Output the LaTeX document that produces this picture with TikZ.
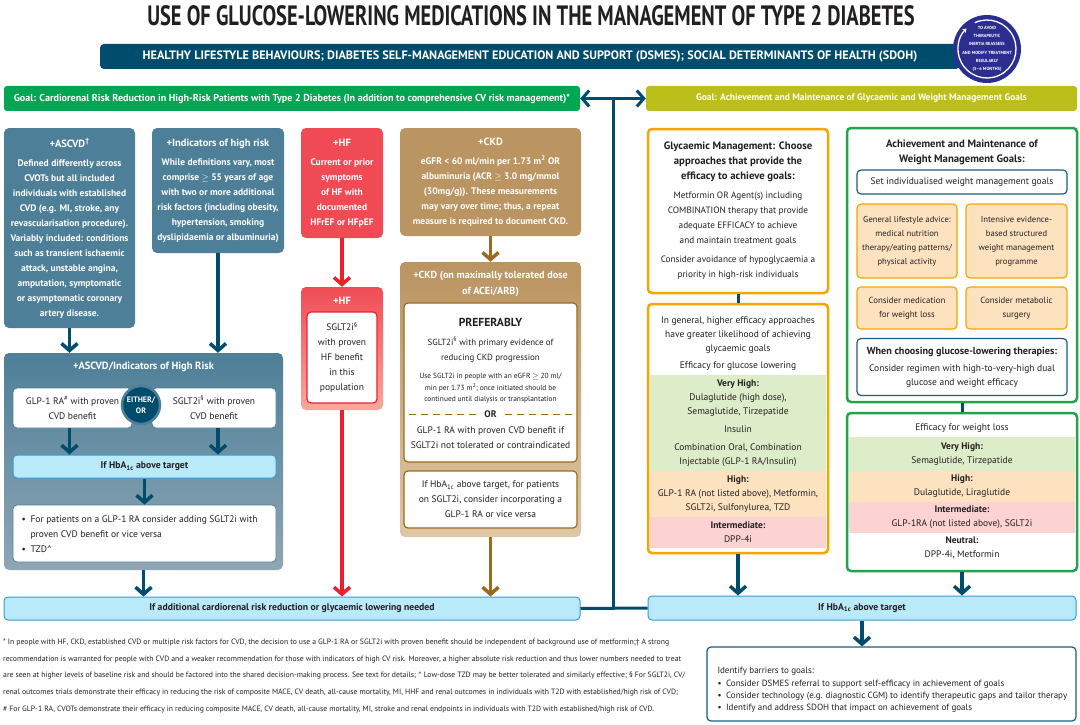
\documentclass[tikz,border=0pt]{standalone}
\usepackage{fontspec}
\setmainfont{PT Sans}
\newfontfamily\titlefont{PT Sans}[FakeStretch=0.73]
\usetikzlibrary{arrows.meta,positioning,calc}

\definecolor{ink}{HTML}{231F20}
\definecolor{hdrblue}{HTML}{004C6C}
\definecolor{circblue}{HTML}{2B2E8F}
\definecolor{goalgreen}{HTML}{00A651}
\definecolor{goalolive}{HTML}{BCBE1A}
\definecolor{steel}{HTML}{4D7F98}
\definecolor{steellight}{HTML}{8FA6B5}
\definecolor{hfred}{HTML}{F04B55}
\definecolor{hfpink}{HTML}{F9A89E}
\definecolor{redline}{HTML}{E8222D}
\definecolor{ckdtan}{HTML}{BA9461}
\definecolor{ckdlight}{HTML}{DEC7A5}
\definecolor{brownline}{HTML}{9C6A1C}
\definecolor{cyanfill}{HTML}{B8EAF9}
\definecolor{cyanline}{HTML}{3A9AD9}
\definecolor{orangeline}{HTML}{F7A600}
\definecolor{orangefill}{HTML}{FDE2C0}
\definecolor{greenband}{HTML}{DDEDC9}
\definecolor{pinkband}{HTML}{FCD2D2}
\definecolor{weightgreen}{HTML}{22A44A}
\definecolor{goalblue}{HTML}{1B5E7E}

\newcommand{\HbA}{HbA\textsubscript{1c}}
\newcommand{\geqs}{\ensuremath{\geq}}
\newcommand{\boxhead}[1]{{\bfseries\fontsize{10.7}{15}\selectfont #1}}

\tikzset{
  colbox/.style={rounded corners=5pt, text=white, align=center, inner sep=0pt,
    font=\bfseries\fontsize{9.5}{15}\selectfont},
  whitebox/.style={draw=#1, fill=white, rounded corners=4pt, line width=1.2pt,
    align=center, inner sep=0pt, text=ink, font=\fontsize{9.5}{15}\selectfont},
  cyanbar/.style={draw=cyanline, fill=cyanfill, rounded corners=4pt, line width=1pt,
    text=ink, font=\bfseries\fontsize{9.7}{12}\selectfont},
  band/.style={fill=#1, align=center, inner sep=0pt, text=ink,
    font=\fontsize{9.5}{14}\selectfont},
  flow/.style={draw=#1, line width=3.5pt, -{Straight Barb[length=7pt,width=16pt]}},
  link/.style={draw=#1, line width=3pt},
}

\begin{document}
\begin{tikzpicture}[x=1pt, y=-1pt]
  \useasboundingbox (0,0) rectangle (1080,725);
  \fill[white] (0,0) rectangle (1080,725);

  % Title and header
  \node[text=ink, font=\titlefont\bfseries\fontsize{28}{28}\selectfont] (title) at (531,16)
    {USE OF GLUCOSE-LOWERING MEDICATIONS IN THE MANAGEMENT OF TYPE 2 DIABETES};
  \node[fill=hdrblue, rounded corners=4pt, minimum width=860pt, minimum height=25pt, text=white,
    font=\bfseries\fontsize{12.2}{13}\selectfont] (lifestyle) at (530,56.5)
    {HEALTHY LIFESTYLE BEHAVIOURS; DIABETES SELF-MANAGEMENT EDUCATION AND SUPPORT (DSMES); SOCIAL DETERMINANTS OF HEALTH (SDOH)};
  \node[circle, fill=circblue, minimum size=68pt, inner sep=0pt, text=white, align=center,
    font=\bfseries\fontsize{4.4}{8.2}\selectfont] (reassess) at (987,49)
    {TO AVOID\\THERAPEUTIC\\INERTIA REASSESS\\AND MODIFY TREATMENT\\REGULARLY\\(3–6 MONTHS)};
  \draw[white, line width=1.3pt, -{Stealth[length=4pt,width=5pt]}] (reassess.center) ++(-115:29)
    arc[start angle=-115, end angle=225, radius=29];

  % Goals
  \node[fill=goalgreen, rounded corners=3pt, minimum width=576pt, minimum height=25pt, text=white,
    font=\bfseries\fontsize{10.1}{11}\selectfont] (goalL) at (292,98.5)
    {Goal: Cardiorenal Risk Reduction in High-Risk Patients with Type 2 Diabetes (In addition to comprehensive CV risk management)*};
  \node[fill=goalolive, rounded corners=3pt, minimum width=431pt, minimum height=25pt, text=white,
    font=\bfseries\fontsize{9.5}{10}\selectfont] (goalR) at (861.5,98.5)
    {Goal: Achievement and Maintenance of Glycaemic and Weight Management Goals};

  % Left: risk groups
  \node[colbox, fill=steel, minimum width=131pt, minimum height=200pt] (ascvd) at (69.5,228)
    {{\fontsize{10.5}{15}\selectfont +ASCVD\textsuperscript{†}}\\[4pt]
     Defined differently across\\CVOTs but all included\\individuals with established\\
     CVD (e.g. MI, stroke, any\\revascularisation procedure).\\Variably included: conditions\\
     such as transient ischaemic\\attack, unstable angina,\\amputation, symptomatic\\
     or asymptomatic coronary\\artery disease.};
  \node[colbox, fill=steel, minimum width=132pt, minimum height=125pt] (risk) at (218,190.5)
    {{\fontsize{10.5}{15}\selectfont +Indicators of high risk}\\[4pt]
     While definitions vary, most\\comprise \geqs{} 55 years of age\\with two or more additional\\
     risk factors (including obesity,\\hypertension, smoking\\dyslipidaemia or albuminuria)};
  \node[colbox, fill=hfred, minimum width=82pt, minimum height=110pt] (hf) at (342,183)
    {{\fontsize{10.5}{15}\selectfont +HF}\\[4pt]
     Current or prior\\symptoms\\of HF with\\documented\\HFrEF or HFpEF};
  \node[colbox, fill=ckdtan, minimum width=181pt, minimum height=108pt] (ckd) at (490.5,182)
    {{\fontsize{10.5}{15}\selectfont +CKD}\\[4pt]
     eGFR < 60 ml/min per 1.73 m\textsuperscript{2} OR\\albuminuria (ACR \geqs{} 3.0 mg/mmol\\
     (30mg/g)). These measurements\\may vary over time; thus, a repeat\\
     measure is required to document CKD.};

  % Left: ASCVD / indicators of high risk
  \node[rounded corners=5pt, top color=steel, bottom color=steellight, minimum width=279pt,
    minimum height=217pt] (ascvdrisk) at (143.5,461.5) {};
  \node[text=white, font=\bfseries\fontsize{10.5}{12}\selectfont] (ascvdriskhead) at (143.5,367)
    {+ASCVD/Indicators of High Risk};
  \node[whitebox=steel, line width=0.8pt, minimum width=119pt, minimum height=40pt] (glp) at (72.5,408)
    {GLP-1 RA\textsuperscript{\#} with proven\\CVD benefit};
  \node[whitebox=steel, line width=0.8pt, minimum width=124pt, minimum height=40pt] (sglt) at (214,408)
    {SGLT2i\textsuperscript{§} with proven\\CVD benefit};
  \node[circle, fill=hdrblue, draw=steel, line width=2.5pt, minimum size=38pt, inner sep=0pt,
    text=white, align=center, font=\bfseries\fontsize{7.9}{11}\selectfont] (either) at (141,405)
    {EITHER/\\OR};
  \node[cyanbar, minimum width=263pt, minimum height=23pt] (hbaL) at (144.5,466.5)
    {If \HbA{} above target};
  \node[whitebox=steel, line width=0.8pt, minimum width=263pt, minimum height=57pt] (tzd) at (144.5,533.5) {};
  \node[anchor=west, align=left, text=ink, font=\fontsize{9.5}{15}\selectfont] (tzdtext) at (18,534)
    {\textbullet\enspace For patients on a GLP-1 RA consider adding SGLT2i with\\
     \hphantom{\textbullet\enspace}proven CVD benefit or vice versa\\
     \textbullet\enspace TZD\textasciicircum};

  % Left: HF and CKD
  \node[rounded corners=5pt, top color=hfred, bottom color=hfpink, minimum width=82pt,
    minimum height=123pt] (hftreat) at (342,348.5) {};
  \node[text=white, font=\bfseries\fontsize{10.5}{12}\selectfont] (hftreathead) at (342,301) {+HF};
  \node[whitebox=redline, minimum width=70pt, minimum height=91pt] (hfsglt) at (342,357.5)
    {SGLT2i\textsuperscript{§}\\with proven\\HF benefit\\in this\\population};

  \node[rounded corners=5pt, top color=ckdtan, bottom color=ckdlight, minimum width=181pt,
    minimum height=275pt] (ckdtreat) at (490.5,399.5) {};
  \node[text=white, align=center, font=\bfseries\fontsize{10.2}{16}\selectfont] (ckdtreathead) at (490.5,284)
    {+CKD (on maximally tolerated dose\\of ACEi/ARB)};
  \node[whitebox=brownline, minimum width=173pt, minimum height=159pt] (ckdpref) at (490.5,382.5) {};
  \node[text=ink, font=\bfseries\fontsize{11.6}{14}\selectfont] (preftitle) at (490.5,322) {PREFERABLY};
  \node[text=ink, align=center, font=\fontsize{8.9}{15.5}\selectfont] (preftext) at (490.5,350)
    {SGLT2i\textsuperscript{§} with primary evidence of\\reducing CKD progression};
  \node[text=ink, align=center, font=\fontsize{7.4}{11.5}\selectfont] (prefnote) at (490.5,388.5)
    {Use SGLT2i in people with an eGFR \geqs{} 20 ml/\\min per 1.73 m\textsuperscript{2}; once initiated should be\\
     continued until dialysis or transplantation};
  \node[text=ink, fill=white, inner sep=3pt, font=\bfseries\fontsize{9.5}{10}\selectfont] (orword) at (490.5,414) {OR};
  \draw[brownline, line width=1pt, dash pattern=on 7pt off 5pt]
    ([xshift=6pt]orword -| ckdpref.west) -- (orword.west);
  \draw[brownline, line width=1pt, dash pattern=on 7pt off 5pt]
    ([xshift=-6pt]orword -| ckdpref.east) -- (orword.east);
  \node[text=ink, align=center, font=\fontsize{9.5}{15}\selectfont] (preftext2) at (490.5,437.5)
    {GLP-1 RA with proven CVD benefit if\\SGLT2i not tolerated or contraindicated};
  \node[whitebox=brownline, minimum width=173pt, minimum height=57pt] (ckdglp) at (490.5,499.5)
    {If \HbA{} above target, for patients\\on SGLT2i, consider incorporating a\\GLP-1 RA or vice versa};

  \node[cyanbar, minimum width=576pt, minimum height=23pt] (needed) at (292,608.5)
    {If additional cardiorenal risk reduction or glycaemic lowering needed};

  % Right: glycaemic management
  \node[whitebox=orangeline, line width=2.5pt, minimum width=180pt, minimum height=164pt,
    font=\fontsize{9.2}{15}\selectfont] (glyc) at (738,211)
    {\boxhead{Glycaemic Management: Choose}\\\boxhead{approaches that provide the}\\\boxhead{efficacy to achieve goals:}\\[4pt]
     Metformin OR Agent(s) including\\COMBINATION therapy that provide\\adequate EFFICACY to achieve\\
     and maintain treatment goals\\[4pt]
     Consider avoidance of hypoglycaemia a\\priority in high-risk individuals};
  \node[whitebox=orangeline, line width=2.5pt, minimum width=180pt, minimum height=249pt] (glycefficacy) at (738,428.5) {};
  \node[text=ink, align=center, font=\fontsize{9.5}{14}\selectfont] (glycintro) at (738,335)
    {In general, higher efficacy approaches\\have greater likelihood of achieving\\glycaemic goals};
  \node[text=ink, font=\fontsize{9.5}{14}\selectfont] (glychead) at (738,366) {Efficacy for glucose lowering};
  \node[band=greenband, minimum width=176pt, minimum height=96pt] (glycvh) at (738,423)
    {\textbf{Very High:}\\Dulaglutide (high dose),\\Semaglutide, Tirzepatide\\[4pt]Insulin\\[4pt]
     Combination Oral, Combination\\Injectable (GLP-1 RA/Insulin)};
  \node[band=orangefill, minimum width=176pt, minimum height=46pt] (glych) at (738,494)
    {\textbf{High:}\\GLP-1 RA (not listed above), Metformin,\\SGLT2i, Sulfonylurea, TZD};
  \node[band=pinkband, minimum width=176pt, minimum height=31pt] (glyci) at (738,532.5)
    {\textbf{Intermediate:}\\DPP-4i};

  % Right: weight management
  \node[whitebox=weightgreen, line width=2.5pt, minimum width=230pt, minimum height=274pt] (weight) at (962,265) {};
  \node[text=ink, align=center, font=\bfseries\fontsize{10.7}{15}\selectfont] (weighthead) at (962,152.5)
    {Achievement and Maintenance of\\Weight Management Goals:};
  \node[whitebox=goalblue, minimum width=210pt, minimum height=24pt] (setgoals) at (962,182)
    {Set individualised weight management goals};
  \node[whitebox=orangeline, fill=orangefill, font=\fontsize{8.6}{14}\selectfont,
    minimum width=100pt, minimum height=74pt] (lifestyleadvice) at (907,241)
    {General lifestyle advice:\\medical nutrition\\therapy/eating patterns/\\physical activity};
  \node[whitebox=orangeline, fill=orangefill, font=\fontsize{8.6}{14}\selectfont,
    minimum width=101pt, minimum height=74pt] (programme) at (1016.5,241)
    {Intensive evidence-\\based structured\\weight management\\programme};
  \node[whitebox=orangeline, fill=orangefill, font=\fontsize{8.8}{14}\selectfont,
    minimum width=100pt, minimum height=42pt] (medication) at (907,308)
    {Consider medication\\for weight loss};
  \node[whitebox=orangeline, fill=orangefill, font=\fontsize{8.8}{14}\selectfont,
    minimum width=101pt, minimum height=42pt] (surgery) at (1016.5,308)
    {Consider metabolic\\surgery};
  \node[whitebox=goalblue, font=\fontsize{9.5}{14}\selectfont, minimum width=210pt, minimum height=57pt] (choosing) at (962,367)
    {{\bfseries\fontsize{10.2}{14}\selectfont When choosing glucose-lowering therapies:}\\[3pt]
     Consider regimen with high-to-very-high dual\\glucose and weight efficacy};

  \node[whitebox=weightgreen, line width=2.5pt, minimum width=230pt, minimum height=158pt] (wloss) at (962,492) {};
  \node[text=ink, font=\fontsize{9.5}{14}\selectfont] (wlosshead) at (962,428) {Efficacy for weight loss};
  \node[band=greenband, minimum width=226pt, minimum height=34pt] (wlossvh) at (962,454)
    {\textbf{Very High:}\\Semaglutide, Tirzepatide};
  \node[band=orangefill, minimum width=226pt, minimum height=31pt] (wlossh) at (962,486.5)
    {\textbf{High:}\\Dulaglutide, Liraglutide};
  \node[band=pinkband, minimum width=226pt, minimum height=31pt] (wlossi) at (962,517.5)
    {\textbf{Intermediate:}\\GLP-1RA (not listed above), SGLT2i};
  \node[text=ink, align=center, font=\fontsize{9.5}{14}\selectfont] (wlossn) at (962,548)
    {\textbf{Neutral:}\\DPP-4i, Metformin};

  \node[cyanbar, minimum width=428pt, minimum height=24pt] (hbaR) at (862,608)
    {If \HbA{} above target};
  \node[whitebox=goalblue, minimum width=369pt, minimum height=74pt] (barriers) at (891.5,684) {};
  \node[anchor=west, align=left, text=ink, font=\fontsize{9}{12.3}\selectfont] (barrierstext) at (714,690)
    {Identify barriers to goals:\\
     \textbullet\enspace Consider DSMES referral to support self-efficacy in achievement of goals\\
     \textbullet\enspace Consider technology (e.g. diagnostic CGM) to identify therapeutic gaps and tailor therapy\\
     \textbullet\enspace Identify and address SDOH that impact on achievement of goals};

  % Footnotes
  \node[anchor=west, align=left, text=ink, inner sep=0pt, font=\fontsize{7.7}{16.7}\selectfont] (notes) at (3,676)
    {* In people with HF, CKD, established CVD or multiple risk factors for CVD, the decision to use a GLP-1 RA or SGLT2i with proven benefit should be independent of background use of metformin;† A strong\\
     recommendation is warranted for people with CVD and a weaker recommendation for those with indicators of high CV risk. Moreover, a higher absolute risk reduction and thus lower numbers needed to treat\\
     are seen at higher levels of baseline risk and should be factored into the shared decision-making process. See text for details; \textasciicircum{} Low-dose TZD may be better tolerated and similarly effective; § For SGLT2i, CV/\\
     renal outcomes trials demonstrate their efficacy in reducing the risk of composite MACE, CV death, all-cause mortality, MI, HHF and renal outcomes in individuals with T2D with established/high risk of CVD;\\
     \# For GLP-1 RA, CVOTs demonstrate their efficacy in reducing composite MACE, CV death, all-cause mortality, MI, stroke and renal endpoints in individuals with T2D with established/high risk of CVD.};

  % Draw arrows
  \draw[flow=hdrblue] (ascvd.south) -- (ascvd.south |- ascvdrisk.north);
  \draw[flow=hdrblue] (risk.south) -- (risk.south |- ascvdrisk.north);
  \draw[flow=hdrblue] (glp.south -| ascvd.south) -- (hbaL.north -| ascvd.south);
  \draw[flow=hdrblue] (sglt.south -| risk.south) -- (hbaL.north -| risk.south);
  \draw[flow=hdrblue] (hbaL.south) -- (tzd.north);
  \draw[flow=hdrblue] (ascvdrisk.south) -- (ascvdrisk.south |- needed.north);
  \draw[flow=redline] (hf.south) -- (hftreat.north);
  \draw[flow=redline] (hftreat.south) -- (hftreat.south |- needed.north);
  \draw[flow=brownline] (ckd.south) -- (ckdtreat.north);
  \draw[flow=brownline] (ckdtreat.south) -- (ckdtreat.south |- needed.north);
  \draw[link=hdrblue] (glyc.south) -- (glycefficacy.north);
  \draw[flow=hdrblue] (glycefficacy.south) -- (glycefficacy.south |- hbaR.north);
  \draw[link=hdrblue] (weight.south) -- (wloss.north);
  \draw[flow=hdrblue] (wloss.south) -- (wloss.south |- hbaR.north);
  \draw[flow=hdrblue] (hbaR.south) -- (hbaR.south |- barriers.north);

  % Link between the two goals
  \coordinate (hub) at ($(goalL.east)!0.5!(goalR.west)$);
  \draw[line width=3pt, hdrblue, {Straight Barb[length=7pt,width=16pt]}-{Straight Barb[length=7pt,width=16pt]}]
    (goalL.east) -- (goalR.west);
  \draw[link=hdrblue] (hub) -- (hub |- needed.east);
  \draw[link=hdrblue] (needed.east) -- (hbaR.west);
\end{tikzpicture}
\end{document}
